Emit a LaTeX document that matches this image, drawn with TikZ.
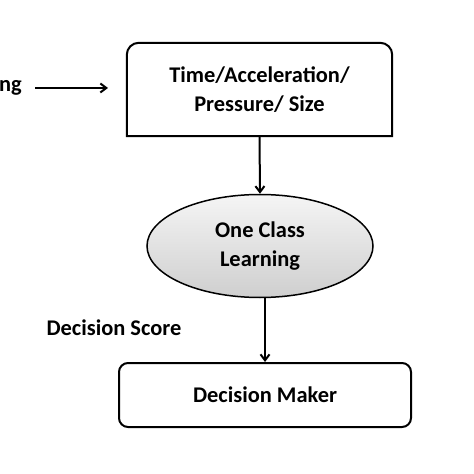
\documentclass[tikz,border=0pt]{standalone}
\usepackage{fontspec}
\setsansfont{Carlito}
\usepackage{tikz}
\usetikzlibrary{shapes.geometric, arrows.meta, positioning}

\begin{document}
\begin{tikzpicture}[
    x=1bp, y=-1bp,
    >={Straight Barb[length=6bp, width=9bp]},
    lbl/.style={font=\sffamily\bfseries\fontsize{22.5}{29}\selectfont, align=center, inner sep=0pt},
    box/.style={lbl, minimum width=265bp, minimum height=93bp},
    ovalbox/.style={lbl, ellipse, draw, line width=1.5bp, top color=gray!8, bottom color=gray!38,
                    minimum width=226bp, minimum height=103bp},
    roundbox/.style={lbl, draw, rounded corners=9bp, line width=2bp,
                     minimum width=292bp, minimum height=64bp},
    arr/.style={->, line width=2bp},
]
\useasboundingbox (0,0) rectangle (474,474);

% === Input ===
\node[lbl, anchor=east] (inp) at (22,88) {ng};

% === Features ===
\node[box] (feat) at (259.5,89.5) {Time/Acceleration/\\Pressure/ Size};
\draw[line width=2bp] (feat.south west) [rounded corners=12bp] -- (feat.north west)
    -- (feat.north east) [sharp corners] -- (feat.south east) -- cycle;
\draw[arr] (inp.east) ++(13,0) coordinate (inpout) -- (108,88);

% === Learner ===
\node[ovalbox] (ocl) at (260,246) {One Class\\Learning};

% === Decision ===
\node[roundbox] (dm) at (265,395) {Decision Maker};
\node[lbl] (score) at (114,328) {Decision Score};

\draw[arr] (feat.south) -- (ocl.north);
\draw[arr] (ocl.south -| dm.north) -- (dm.north);

\end{tikzpicture}
\end{document}
